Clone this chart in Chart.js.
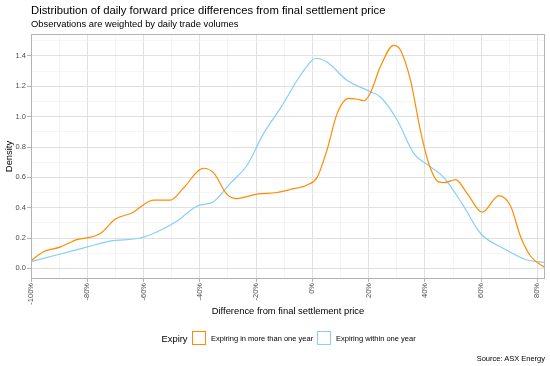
<!DOCTYPE html>
<html>
<head>
<meta charset="utf-8">
<script src="https://cdn.jsdelivr.net/npm/chart.js@4.4.1/dist/chart.umd.min.js"></script>
<style>
  html, body { margin: 0; padding: 0; background: #fff; }
  #wrap { position: relative; width: 550px; height: 366px; font-family: "Liberation Sans", Arial, sans-serif; }
  #c { position: absolute; left: 0; top: 0; }
  .t { position: absolute; white-space: nowrap; line-height: 1; color: #000; }
  .box { position: absolute; width: 12px; height: 12px; background: #fff; }
</style>
</head>
<body>
<div id="wrap">
  <canvas id="c" width="550" height="366"></canvas>
  <div class="t" style="left:31px; top:4.5px; font-size:11.3px;">Distribution of daily forward price differences from final settlement price</div>
  <div class="t" style="left:31px; top:18.8px; font-size:9.4px;">Observations are weighted by daily trade volumes</div>
  <div class="t" style="left:161.5px; top:333.6px; font-size:9.4px;">Expiry</div>
  <div class="box" style="left:192px; top:330.5px; border:1.2px solid #ff8c00;"></div>
  <div class="t" style="left:211px; top:334.7px; font-size:7.5px;">Expiring in more than one year</div>
  <div class="box" style="left:317px; top:330.5px; border:1.2px solid #87cefa;"></div>
  <div class="t" style="left:336px; top:334.7px; font-size:7.5px;">Expiring within one year</div>
  <div class="t" style="right:5px; top:354.6px; font-size:7.5px;">Source: ASX Energy</div>
</div>
<script>
// Percentage difference from final settlement price (x) and density (y)
const moreThanYearX = [-100, -95.6, -89.7, -83.7, -77.8, -75, -70, -63.6, -60, -56.5, -50.5, -45.8, -38.7, -35.1, -30.4, -26.8, -19.7, -12.6, -7.8, -1.9, 1.7, 5.2, 8.8, 12.9, 16, 18.3, 20.6, 24.2, 28.9, 31.3, 34.9, 38.4, 41.4, 44.9, 47, 50.9, 55, 60.4, 66.3, 70.5, 74, 77.6, 82.7];
const moreThanYearY = [0.05, 0.11, 0.14, 0.19, 0.21, 0.235, 0.325, 0.37, 0.42, 0.45, 0.45, 0.53, 0.66, 0.63, 0.49, 0.46, 0.49, 0.50, 0.52, 0.55, 0.60, 0.78, 1.02, 1.12, 1.115, 1.105, 1.155, 1.33, 1.47, 1.44, 1.24, 0.91, 0.69, 0.57, 0.565, 0.585, 0.495, 0.37, 0.48, 0.41, 0.21, 0.08, 0.005];
const withinYearX = [-100, -90.9, -80.2, -71.9, -61.2, -55.3, -48.2, -41.1, -35.1, -29.2, -23.2, -17.3, -11.4, -7.8, -5.4, -2, 1.1, 5.2, 12.3, 20.6, 24.2, 30.1, 36, 42, 46.7, 53.8, 59.8, 68.1, 76.3, 82.7];
const withinYearY = [0.045, 0.088, 0.14, 0.18, 0.20, 0.24, 0.31, 0.41, 0.44, 0.56, 0.68, 0.89, 1.055, 1.165, 1.24, 1.33, 1.385, 1.36, 1.24, 1.165, 1.13, 0.98, 0.76, 0.67, 0.60, 0.41, 0.23, 0.13, 0.055, 0.04];
const seriesNames = ["Expiring in more than one year", "Expiring within one year"];
const xTickStep = 10;   // minor grid every 10%, labels every 20%
const yTickStep = 0.1;  // minor grid every 0.1, labels every 0.2

const toPts = (xs, ys) => xs.map((x, i) => ({ x: x, y: ys[i] }));

const borderPlugin = {
  id: 'panelBorder',
  afterDraw(chart) {
    const a = chart.chartArea, c = chart.ctx;
    c.save();
    c.strokeStyle = '#b3b3b3';
    c.lineWidth = 1;
    c.strokeRect(a.left + 0.5, a.top + 0.5, a.right - a.left - 1, a.bottom - a.top - 1);
    c.restore();
  }
};

const isMajorX = v => Math.round(v) % 20 === 0;
const isMajorY = v => Math.round(v * 10) % 2 === 0;

new Chart(document.getElementById('c'), {
  type: 'line',
  data: {
    datasets: [
      { label: seriesNames[0], data: toPts(moreThanYearX, moreThanYearY), borderColor: '#ff8c00', borderWidth: 1.2, pointRadius: 0, fill: false, cubicInterpolationMode: 'monotone' },
      { label: seriesNames[1], data: toPts(withinYearX, withinYearY), borderColor: '#87cefa', borderWidth: 1.2, pointRadius: 0, fill: false, cubicInterpolationMode: 'monotone' }
    ]
  },
  options: {
    responsive: false,
    animation: false,
    events: [],
    layout: { padding: { left: 0, right: 5, top: 34, bottom: 49 } },
    plugins: { legend: { display: false }, tooltip: { enabled: false }, title: { display: false } },
    scales: {
      x: {
        type: 'linear', min: -100, max: 82.7,
        afterFit(s) { s.height = 38; },
        border: { display: false },
        grid: {
          color: ctx => isMajorX(ctx.tick.value) ? '#e0e0e0' : '#efefef',
          lineWidth: ctx => isMajorX(ctx.tick.value) ? 1 : 0.6,
          tickColor: ctx => isMajorX(ctx.tick.value) ? '#b3b3b3' : 'rgba(0,0,0,0)',
          tickLength: 3, drawTicks: true
        },
        ticks: {
          stepSize: xTickStep, includeBounds: false, autoSkip: false,
          minRotation: 90, maxRotation: 90, padding: 1,
          color: '#4d4d4d', font: { family: 'Liberation Sans', size: 7.5 },
          callback: v => isMajorX(v) ? Math.round(v) + '%' : ''
        },
        title: { display: true, text: 'Difference from final settlement price', color: '#000', font: { family: 'Liberation Sans', size: 9.4 }, padding: { top: 0, bottom: 0 } }
      },
      y: {
        type: 'linear', min: -0.07, max: 1.545,
        afterFit(s) { s.width = 31; },
        border: { display: false },
        grid: {
          color: ctx => isMajorY(ctx.tick.value) ? '#e0e0e0' : '#efefef',
          lineWidth: ctx => isMajorY(ctx.tick.value) ? 1 : 0.6,
          tickColor: ctx => isMajorY(ctx.tick.value) ? '#b3b3b3' : 'rgba(0,0,0,0)',
          tickLength: 4, drawTicks: true
        },
        ticks: {
          stepSize: yTickStep, includeBounds: false, autoSkip: false, padding: 1,
          color: '#4d4d4d', font: { family: 'Liberation Sans', size: 7.5 },
          callback: v => isMajorY(v) ? (Math.round(v * 10) / 10).toFixed(1) : ''
        },
        title: { display: true, text: 'Density', color: '#000', font: { family: 'Liberation Sans', size: 9.4 }, padding: { top: 4, bottom: 0 } }
      }
    }
  },
  plugins: [borderPlugin]
});
</script>
</body>
</html>
